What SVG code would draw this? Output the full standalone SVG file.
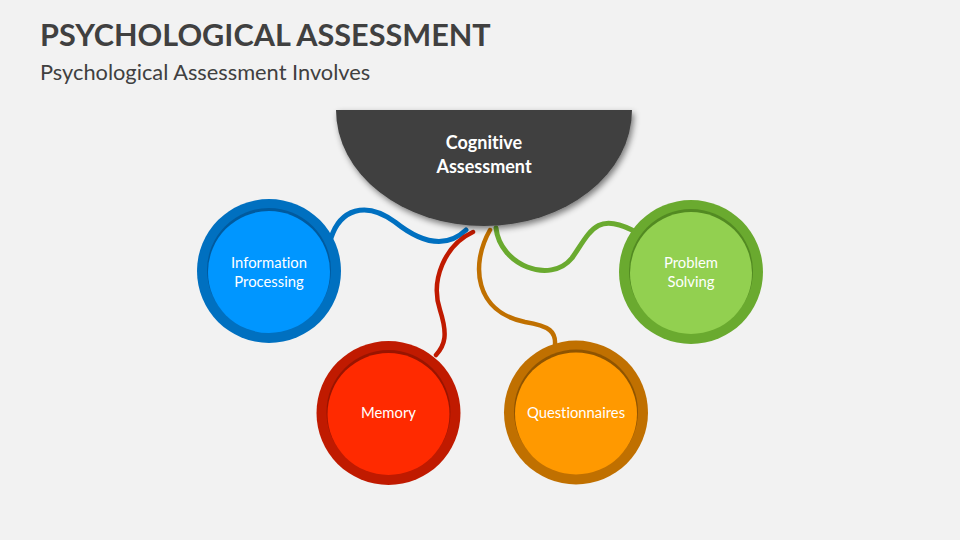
<svg xmlns="http://www.w3.org/2000/svg" width="960" height="540" viewBox="0 0 960 540">
<defs>
<filter id="sh" x="-20%" y="-20%" width="140%" height="150%">
<feGaussianBlur in="SourceAlpha" stdDeviation="3"/>
<feOffset dx="2" dy="3" result="b"/>
<feComponentTransfer><feFuncA type="linear" slope="0.5"/></feComponentTransfer>
<feMerge><feMergeNode/><feMergeNode in="SourceGraphic"/></feMerge>
</filter>
<style>
text{font-variant-ligatures:none}
.title{font-family:Lato,"Liberation Sans",sans-serif;font-weight:bold;font-size:30.6px;fill:#404040}
.sub{font-family:Lato,"Liberation Sans",sans-serif;font-size:21.8px;fill:#404040}
.lbl{font-family:Lato,"Open Sans",sans-serif;font-size:14.8px;fill:#ffffff;text-anchor:middle}
.hd{font-family:Lato,"Open Sans",sans-serif;font-weight:bold;font-size:18px;fill:#ffffff;text-anchor:middle}
.c{fill:none;stroke-linecap:round}
</style>
</defs>
<rect width="960" height="540" fill="#f2f2f2"/>
<text class="title" x="40" y="46">PSYCHOLOGICAL ASSESSMENT</text>
<text class="sub" x="40" y="80">Psychological Assessment Involves</text>

<g id="connectors">
<path class="c" stroke="#0070c0" stroke-width="5" d="M 331 238 C 340 210, 365 200, 395 222 C 420 242, 445 250, 466 230"/>
<path class="c" stroke="#c01a00" stroke-width="4.5" d="M 473 232 C 445 245, 430 280, 440 310 C 448 335, 445 345, 436 355"/>
<path class="c" stroke="#c07000" stroke-width="4.5" d="M 490 230 C 470 265, 475 312, 525 322 C 550 326, 556 332, 555 345"/>
<path class="c" stroke="#6aaa2f" stroke-width="5" d="M 496 228 C 500 265, 550 285, 572 258 C 590 232, 596 212, 632 230"/>
</g>

<g id="cognitive">
<path d="M 336 110 L 632 110 A 148 116 0 0 1 336 110 Z" fill="#404040" filter="url(#sh)"/>
<text class="hd" x="484" y="149">Cognitive</text>
<text class="hd" x="484" y="173">Assessment</text>
</g>

<g id="information-processing">
<circle cx="269" cy="271" r="72" fill="#0070c0"/>
<circle cx="269" cy="270" r="62" fill="#005a9e"/>
<circle cx="269" cy="272" r="61" fill="#0096ff"/>
<text class="lbl" x="269" y="268">Information</text>
<text class="lbl" x="269" y="287">Processing</text>
</g>

<g id="memory">
<circle cx="388.5" cy="413" r="72" fill="#c01a00"/>
<circle cx="388.5" cy="412" r="62" fill="#991400"/>
<circle cx="388.5" cy="414" r="61" fill="#ff2a00"/>
<text class="lbl" x="388.5" y="418">Memory</text>
</g>

<g id="questionnaires">
<circle cx="576" cy="412.5" r="72" fill="#c07000"/>
<circle cx="576" cy="411.5" r="62" fill="#8f5400"/>
<circle cx="576" cy="413.5" r="61" fill="#ff9900"/>
<text class="lbl" x="576" y="418">Questionnaires</text>
</g>

<g id="problem-solving">
<circle cx="691" cy="272" r="72" fill="#6aaa2f"/>
<circle cx="691" cy="271" r="62" fill="#528a22"/>
<circle cx="691" cy="273" r="61" fill="#92d050"/>
<text class="lbl" x="691" y="268">Problem</text>
<text class="lbl" x="691" y="287">Solving</text>
</g>
</svg>
